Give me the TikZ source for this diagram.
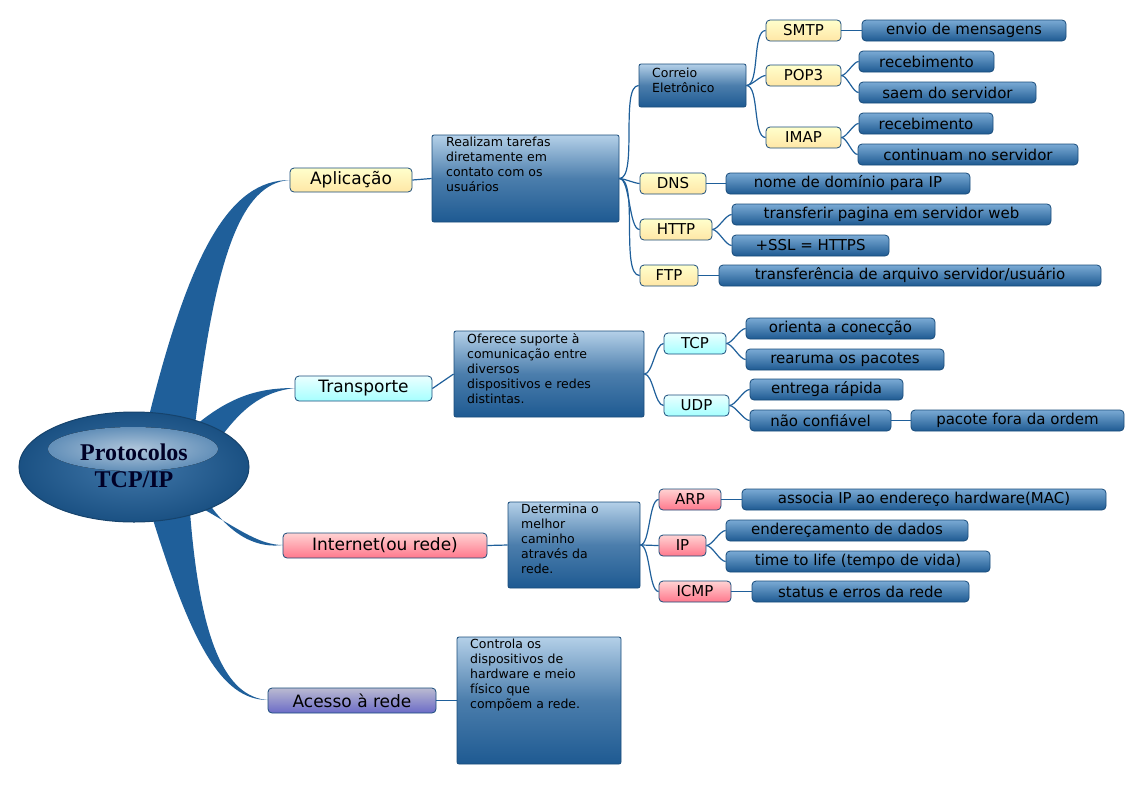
\documentclass[tikz,border=0pt]{standalone}
\usepackage{fontspec}
\usetikzlibrary{shapes.geometric}
\setmainfont{DejaVu Sans}
\newfontfamily\serifb{Liberation Serif}
\begin{document}
\definecolor{ln}{HTML}{1F5F9A}
\definecolor{bl}{HTML}{B4D0E8}
\definecolor{bd}{HTML}{1E5A92}
\definecolor{pl}{HTML}{7AAAD4}
\tikzset{
 base/.style={draw=ln!80!black,line width=0.8pt,rounded corners=4pt,inner sep=0pt,font=\fontsize{15}{15}\selectfont},
 pill/.style={base,top color=pl,bottom color=bd},
 yel/.style={base,top color=white!60!yellow!50,bottom color=yellow!45!orange!35},
 cy/.style={base,top color=cyan!8,bottom color=cyan!35},
 pk/.style={base,top color=pink!70,bottom color=red!50!pink!90!magenta!80},
 pu/.style={base,top color=blue!20!gray!45,bottom color=blue!45!gray!80,font=\fontsize{17}{17}\selectfont},
 desc/.style={base,rounded corners=2pt,top color=bl,bottom color=bd,middle color=bd!70!bl},
 dtext/.style={anchor=north west,align=left,font=\fontsize{12.5}{15}\selectfont,inner sep=0pt},
 mainn/.style={font=\fontsize{17}{17}\selectfont},
 con/.style={draw=ln,line width=1.2pt},
}
\newcommand\bx[7]{%
 \pgfmathsetmacro\cx{(#3+#5)/2}\pgfmathsetmacro\cy{(#4+#6)/2}%
 \pgfmathsetmacro\ww{#5-#3}\pgfmathsetmacro\hh{#6-#4}%
 \node[#1,minimum width=\ww pt,minimum height=\hh pt] (#2) at (\cx,\cy) {#7};}
\begin{tikzpicture}[x=1pt,y=-1pt]
\useasboundingbox (0,0) rectangle (1145,785);
% thick branches
\fill[ln] (148,420) .. controls (190,250) and (230,180) .. (290,180) .. controls (240,183) and (215,260) .. (195,425) -- cycle;
\fill[ln] (190,430) .. controls (230,395) and (260,388) .. (295,388) .. controls (260,392) and (240,410) .. (215,445) -- cycle;
\fill[ln] (205,510) .. controls (240,530) and (260,545) .. (283,545) .. controls (260,548) and (230,540) .. (200,490) -- cycle;
\fill[ln] (150,510) .. controls (190,640) and (220,700) .. (268,700) .. controls (225,697) and (200,640) .. (190,512) -- cycle;
% central
\node[ellipse,minimum width=230pt,minimum height=110pt,draw=ln!70!black,line width=1pt,inner color=ln!85,outer color=ln!85!black] (c) at (134,467) {};
\fill[inner color=ln!35,outer color=ln!70] (133,449) ellipse [x radius=85,y radius=22];
\node[align=center,font=\serifb\bfseries\fontsize{24}{27}\selectfont,text=black!85!blue] at (134,466) {Protocolos\\TCP/IP};
% main nodes
\bx{yel,mainn}{apl}{290}{168}{412}{192}{Aplicação}
\bx{cy,mainn}{tra}{295}{376}{432}{401}{Transporte}
\bx{pk,mainn}{int}{283}{533}{487}{558}{Internet(ou rede)}
\bx{pu}{ace}{268}{688}{436}{713}{Acesso à rede}
% description boxes
\bx{desc}{d1}{432}{135}{619}{222}{}
\node[dtext] at (446,137) {Realizam tarefas\\diretamente em\\contato com os\\usuários};
\bx{desc}{d2}{454}{331}{644}{417}{}
\node[dtext] at (467,333) {Oferece suporte à\\comunicação entre\\diversos\\dispositivos e redes\\distintas.};
\bx{desc}{d3}{508}{502}{640}{588}{}
\node[dtext] at (521,504) {Determina o\\melhor\\caminho\\através da\\rede.};
\bx{desc}{d4}{457}{637}{621}{764}{}
\node[dtext] at (470,639) {Controla os\\dispositivos de\\hardware e meio\\físico que\\compõem a rede.};
% application subtree
\bx{desc}{cor}{639}{64}{746}{107}{}
\node[dtext] at (652,68) {Correio\\Eletrônico};
\bx{yel}{smtp}{766}{20}{841}{41}{SMTP}
\bx{yel}{pop}{766}{65}{841}{86}{POP3}
\bx{yel}{imap}{766}{127}{841}{148}{IMAP}
\bx{pill}{a1}{862}{20}{1066}{41}{envio de mensagens}
\bx{pill}{a2}{859}{51}{994}{72}{recebimento}
\bx{pill}{a3}{859}{82}{1036}{103}{saem do servidor}
\bx{pill}{a4}{859}{113}{993}{134}{recebimento}
\bx{pill}{a5}{858}{144}{1078}{165}{continuam no servidor}
\bx{yel}{dns}{640}{173}{706}{194}{DNS}
\bx{pill}{a6}{726}{173}{970}{194}{nome de domínio para IP}
\bx{yel}{http}{640}{219}{712}{240}{HTTP}
\bx{pill}{a7}{732}{204}{1051}{225}{transferir pagina em servidor web}
\bx{pill}{a8}{732}{235}{889}{256}{+SSL = HTTPS}
\bx{yel}{ftp}{640}{265}{698}{286}{FTP}
\bx{pill}{a9}{719}{265}{1101}{286}{transferência de arquivo servidor/usuário}
% transport subtree
\bx{cy}{tcp}{664}{333}{726}{354}{TCP}
\bx{cy}{udp}{664}{395}{729}{416}{UDP}
\bx{pill}{t1}{746}{318}{935}{339}{orienta a conecção}
\bx{pill}{t2}{746}{349}{944}{370}{rearuma os pacotes}
\bx{pill}{t3}{750}{379}{903}{400}{entrega rápida}
\bx{pill}{t4}{750}{410}{891}{431}{não confiável}
\bx{pill}{t5}{911}{410}{1124}{431}{pacote fora da ordem}
% internet subtree
\bx{pk}{arp}{659}{489}{721}{510}{ARP}
\bx{pk}{ip}{659}{535}{706}{556}{IP}
\bx{pk}{icmp}{659}{581}{731}{602}{ICMP}
\bx{pill}{i1}{742}{489}{1106}{510}{associa IP ao endereço hardware(MAC)}
\bx{pill}{i2}{726}{520}{968}{541}{endereçamento de dados}
\bx{pill}{i3}{726}{551}{990}{572}{time to life (tempo de vida)}
\bx{pill}{i4}{752}{581}{969}{602}{status e erros da rede}
% connectors
\begin{scope}[con]
\draw (apl.east) -- (d1.west);
\draw (tra.east) -- (d2.west);
\draw (int.east) -- (d3.west);
\draw (ace.east) -- (d4.west);
\foreach \t in {cor,dns,http,ftp} \draw (d1.east) to[out=0,in=180,looseness=0.5] (\t.west);
\foreach \t in {smtp,pop,imap} \draw (cor.east) to[out=0,in=180,looseness=0.6] (\t.west);
\draw (smtp.east) -- (a1.west);
\foreach \t in {a2,a3} \draw (pop.east) to[out=0,in=180,looseness=0.6] (\t.west);
\foreach \t in {a4,a5} \draw (imap.east) to[out=0,in=180,looseness=0.6] (\t.west);
\draw (dns.east) -- (a6.west);
\foreach \t in {a7,a8} \draw (http.east) to[out=0,in=180,looseness=0.6] (\t.west);
\draw (ftp.east) -- (a9.west);
\foreach \t in {tcp,udp} \draw (d2.east) to[out=0,in=180,looseness=0.6] (\t.west);
\foreach \t in {t1,t2} \draw (tcp.east) to[out=0,in=180,looseness=0.6] (\t.west);
\foreach \t in {t3,t4} \draw (udp.east) to[out=0,in=180,looseness=0.6] (\t.west);
\draw (t4.east) -- (t5.west);
\foreach \t in {arp,ip,icmp} \draw (d3.east) to[out=0,in=180,looseness=0.5] (\t.west);
\draw (arp.east) -- (i1.west);
\foreach \t in {i2,i3} \draw (ip.east) to[out=0,in=180,looseness=0.6] (\t.west);
\draw (icmp.east) -- (i4.west);
\end{scope}
\end{tikzpicture}
\end{document}
